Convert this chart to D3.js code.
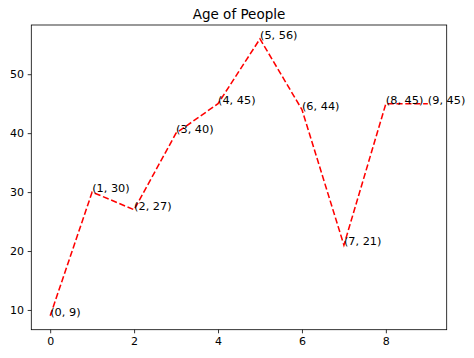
<!DOCTYPE html>
<html><head><meta charset="utf-8">
<script src="https://cdn.jsdelivr.net/npm/d3@7"></script>
<style>body{margin:0;background:#fff}svg{display:block}text{font-family:"DejaVu Sans",sans-serif}</style>
</head><body>
<svg id="c" width="474" height="358"></svg>
<script>
const xs = [0,1,2,3,4,5,6,7,8,9];
const ages = [9,30,27,40,45,56,44,21,45,45];
const xTicks = [0,2,4,6,8];
const yTicks = [10,20,30,40,50];
const title = "Age of People";

const L=31.3,R=446.7,T=25,B=329.7;
const svg=d3.select("#c");
const xMin=d3.min(xs),xMax=d3.max(xs),xm=(xMax-xMin)*0.05;
const yMin=d3.min(ages),yMax=d3.max(ages),ym=(yMax-yMin)*0.05;
const x=d3.scaleLinear().domain([xMin-xm,xMax+xm]).range([L,R]);
const y=d3.scaleLinear().domain([yMin-ym,yMax+ym]).range([B,T]);

const xa=svg.append("g").attr("transform",`translate(0,${B})`)
  .call(d3.axisBottom(x).tickValues(xTicks).tickSize(3.6).tickPadding(3.6).tickSizeOuter(0));
const ya=svg.append("g").attr("transform",`translate(${L},0)`)
  .call(d3.axisLeft(y).tickValues(yTicks).tickSize(3.6).tickPadding(3.6).tickSizeOuter(0));
[xa,ya].forEach(a=>{a.select(".domain").remove();a.selectAll("line").attr("stroke","#000").attr("stroke-width",0.8);
  a.selectAll("text").attr("font-size","11px").attr("fill","#000").attr("font-family","DejaVu Sans");});
svg.append("rect").attr("x",L).attr("y",T).attr("width",R-L).attr("height",B-T)
  .attr("fill","none").attr("stroke","#000").attr("stroke-width",0.8);

const pts=xs.map((v,i)=>[v,ages[i]]);
svg.append("path").datum(pts).attr("fill","none").attr("stroke","#ff0000").attr("stroke-width",1.55)
  .attr("stroke-dasharray","6.2,2.7")
  .attr("d",d3.line().x(d=>x(d[0])).y(d=>y(d[1])));

svg.append("g").selectAll("text").data(pts).join("text")
  .attr("x",d=>x(d[0])).attr("y",d=>y(d[1])).attr("font-size","11.3px").attr("fill","#000")
  .text(d=>`(${d[0]}, ${d[1]})`);

svg.append("text").attr("x",(L+R)/2).attr("y",T-6.3).attr("text-anchor","middle")
  .attr("font-size","13.5px").attr("fill","#000").text(title);
</script>
</body></html>
